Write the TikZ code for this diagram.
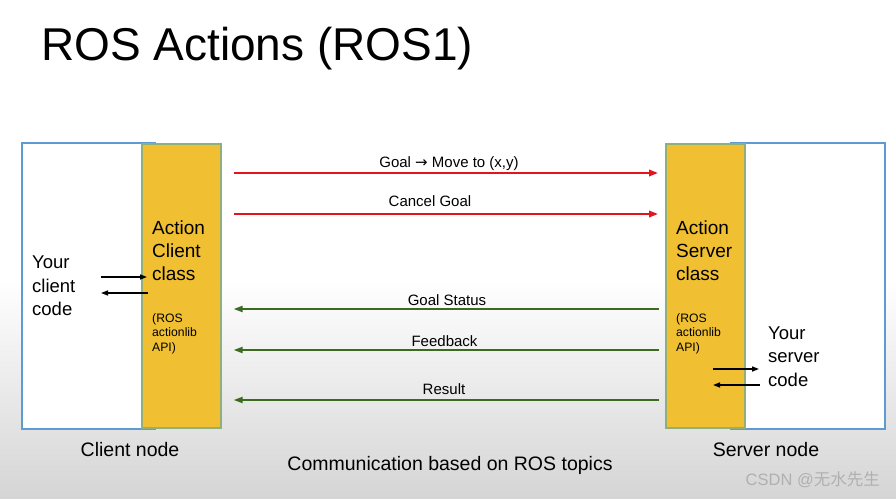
\documentclass[tikz,border=0pt]{standalone}
\usepackage{fontspec}
\setmainfont{Liberation Sans}
\newfontfamily\cjkfont{Noto Sans CJK SC}
\newfontfamily\symfont{DejaVu Sans}
\usetikzlibrary{arrows.meta,calc}
\definecolor{boxyellow}{HTML}{F0C032}
\definecolor{yellowedge}{HTML}{8FB07A}
\definecolor{boxblue}{HTML}{5E9BD2}
\definecolor{msgred}{HTML}{E3141C}
\definecolor{msggreen}{HTML}{3B6B20}
\definecolor{bgbottom}{HTML}{D5D5D5}
\definecolor{wmgray}{HTML}{B0B0B0}
\tikzset{
  nodebox/.style={draw=boxblue, line width=1.8pt, fill=white, inner sep=0pt, anchor=north west},
  libbox/.style={draw=yellowedge, line width=1.6pt, fill=boxyellow, inner sep=0pt, anchor=north west},
  bigtext/.style={inner sep=0pt, anchor=north west, align=left, font=\fontsize{19}{23}\selectfont},
  apitext/.style={inner sep=0pt, anchor=north west, align=left, font=\fontsize{12.2}{14.6}\selectfont},
  msglabel/.style={inner sep=0pt, anchor=base, font=\fontsize{15}{18}\selectfont},
  caption/.style={inner sep=0pt, anchor=base, font=\fontsize{19.5}{23}\selectfont},
  redmsg/.style={draw=msgred, line width=1.9pt, -{Triangle[length=9pt,width=6.5pt]}},
  greenmsg/.style={draw=msggreen, line width=1.9pt, -{Triangle[length=9pt,width=6pt]}},
  callarrow/.style={draw=black, line width=1.5pt, -{Triangle[length=7pt,width=5pt]}}
}
\begin{document}
\begin{tikzpicture}[x=1pt,y=-1pt]
% background
\path[use as bounding box, fill=white] (0,0) rectangle (896,498);
\shade[top color=white, bottom color=bgbottom] (0,280) rectangle (896,498);

% title
\node[inner sep=0pt, anchor=base west, font=\fontsize{46}{50}\selectfont] (title) at (41,60) {ROS Actions (ROS1)};

% client side
\node[nodebox, minimum width=133, minimum height=286] (cnode) at (21,142) {};
\node[libbox, minimum width=79, minimum height=284] (cy) at (141,143) {};
\node[bigtext] (cclass) at (152,220.5) {Action\\Client\\class};
\node[apitext] (capi) at (152,313) {(ROS\\actionlib\\API)};
\node[bigtext, font=\fontsize{18.5}{23.5}\selectfont] (ccode) at (32,256) {Your\\client\\code};

% server side
\node[nodebox, minimum width=154, minimum height=286] (snode) at (730,142) {};
\node[libbox, minimum width=79, minimum height=284] (sy) at (665,143) {};
\node[bigtext] (sclass) at (676,220.5) {Action\\Server\\class};
\node[apitext] (sapi) at (676,313) {(ROS\\actionlib\\API)};
\node[bigtext, font=\fontsize{18.5}{23.5}\selectfont] (scode) at (768,326.5) {Your\\server\\code};

% client code <-> client library
\coordinate (cc1) at (101,277);
\coordinate (cy1) at (147,277);
\coordinate (cy2) at (148,293);
\coordinate (cc2) at (101,293);
\draw[callarrow] (cc1) -- (cy1);
\draw[callarrow] (cy2) -- (cc2);

% server library <-> server code
\coordinate (sy1) at (713,369);
\coordinate (sc1) at (759,369);
\coordinate (sc2) at (760,385);
\coordinate (sy2) at (713,385);
\draw[callarrow] (sy1) -- (sc1);
\draw[callarrow] (sc2) -- (sy2);

% topic messages
\coordinate (yGoal) at (0,173);
\coordinate (yCancel) at (0,214);
\coordinate (yStatus) at (0,309);
\coordinate (yFeed) at (0,350);
\coordinate (yResult) at (0,400);
\draw[redmsg, shorten <=12pt, shorten >=7pt] (cy.east |- yGoal) -- (sy.west |- yGoal);
\draw[redmsg, shorten <=12pt, shorten >=7pt] (cy.east |- yCancel) -- (sy.west |- yCancel);
\draw[greenmsg, shorten <=6pt, shorten >=12pt] (sy.west |- yStatus) -- (cy.east |- yStatus);
\draw[greenmsg, shorten <=6pt, shorten >=12pt] (sy.west |- yFeed) -- (cy.east |- yFeed);
\draw[greenmsg, shorten <=6pt, shorten >=12pt] (sy.west |- yResult) -- (cy.east |- yResult);

\node[msglabel] (lgoal) at (449,167.5) {Goal {\symfont →} Move to (x,y)};
\node[msglabel] (lcancel) at (430,206.5) {Cancel Goal};
\node[msglabel] (lstatus) at (447,305) {Goal Status};
\node[msglabel] (lfeed) at (444.5,346) {Feedback};
\node[msglabel] (lresult) at (444,394.3) {Result};

% captions
\node[caption] (ccap) at (130,456.7) {Client node};
\node[caption] (scap) at (766,456.7) {Server node};
\node[caption] (topics) at (450,470.7) {Communication based on ROS topics};
\node[inner sep=0pt, anchor=base east, text=wmgray, font=\fontsize{16.5}{20}\selectfont] (wm) at (880,485) {CSDN @{\cjkfont 无水先生}};
\end{tikzpicture}
\end{document}
